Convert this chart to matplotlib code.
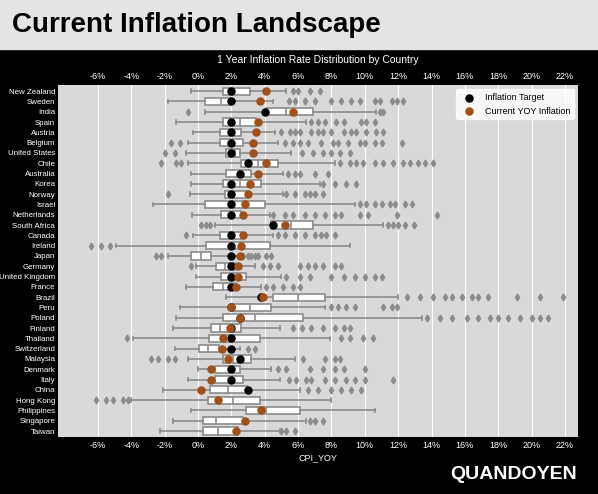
import matplotlib.pyplot as plt
import numpy as np

plt.rcParams['font.family'] = ['Liberation Sans', 'DejaVu Sans']

countries = ['New Zealand', 'Sweden', 'India', 'Spain', 'Austria', 'Belgium', 'United States',
             'Chile', 'Australia', 'Korea', 'Norway', 'Israel', 'Netherlands', 'South Africa',
             'Canada', 'Ireland', 'Japan', 'Germany', 'United Kingdom', 'France', 'Brazil', 'Peru',
             'Poland', 'Finland', 'Thailand', 'Switzerland', 'Malaysia', 'Denmark', 'Italy', 'China',
             'Hong Kong', 'Philippines', 'Singapore', 'Taiwan']

# whisker low, q1, median, q3, whisker high
box_stats = [
    (-0.45, 1.5, 2.0, 3.1, 5.3), (-1.8, 0.4, 1.4, 2.0, 4.5), (0.4, 4.1, 5.3, 6.9, 10.7),
    (-1.3, 1.5, 2.5, 3.5, 6.5), (-0.3, 1.3, 2.0, 2.6, 4.6), (-0.6, 1.3, 2.0, 2.7, 4.8),
    (-0.7, 1.7, 2.2, 2.5, 5.6), (-0.6, 2.6, 3.6, 4.8, 8.2), (-0.45, 1.7, 2.5, 3.2, 5.1),
    (-0.4, 1.5, 2.5, 3.8, 7.3), (-0.5, 1.6, 2.0, 3.0, 5.1), (-2.7, 0.4, 2.0, 4.0, 9.4),
    (-0.35, 1.4, 2.0, 2.6, 4.3), (1.0, 4.4, 5.6, 6.9, 11.1), (-0.3, 1.3, 2.0, 2.6, 4.5),
    (-4.9, 0.5, 2.0, 4.3, 9.1), (-1.8, -0.4, 0.15, 0.8, 2.5), (-0.1, 1.1, 1.6, 2.2, 3.4),
    (-0.15, 1.35, 1.9, 2.85, 5.0), (-0.7, 0.9, 1.5, 2.3, 3.75), (1.7, 4.5, 6.0, 7.6, 12.0),
    (-1.1, 2.0, 3.1, 4.4, 7.6), (-1.3, 1.5, 3.4, 6.3, 13.4), (-1.5, 0.75, 1.3, 2.6, 4.9),
    (-3.9, 0.65, 2.0, 3.7, 7.9), (-1.4, 0.05, 0.6, 1.25, 2.5), (-0.6, 1.5, 2.1, 3.2, 5.8),
    (0.0, 1.0, 2.0, 2.5, 4.4), (-0.6, 1.0, 2.0, 2.7, 4.9), (-2.1, 0.7, 1.8, 2.95, 6.1),
    (-4.0, 0.6, 2.1, 3.7, 8.0), (-0.4, 2.9, 4.1, 6.1, 10.6), (-1.5, 0.3, 1.1, 2.7, 6.5),
    (-2.3, 0.3, 1.2, 2.4, 4.9),
]

outliers = [
    [5.7, 6.0, 6.7, 7.3],
    [5.45, 5.8, 6.4, 7.0, 7.95, 8.6, 9.2, 9.7, 10.6, 10.9, 11.6, 11.9, 12.3],
    [-0.6, 10.9, 11.1],
    [6.8, 7.2, 7.6, 8.3, 8.75, 9.8, 10.1, 10.6],
    [5.0, 5.5, 5.8, 6.1, 6.8, 7.2, 7.5, 7.95, 8.75, 9.2, 9.5, 10.1, 10.7, 11.1],
    [-1.6, -1.1, 5.2, 5.7, 6.1, 6.6, 7.4, 8.1, 8.4, 9.0, 9.7, 10.0, 10.6, 11.0, 12.2],
    [-2.0, -1.4, 6.25, 6.9, 7.5, 7.95, 8.5, 9.1],
    [-2.2, -1.3, -1.0, 8.5, 9.1, 9.5, 9.9, 10.6, 11.1, 11.7, 12.3, 12.7, 13.2, 13.6, 14.1],
    [5.4, 5.8, 6.1, 7.0, 7.8],
    [7.5, 8.2, 8.9, 9.5],
    [-1.8, 5.3, 5.8, 6.4, 6.7, 7.0, 7.5],
    [9.7, 10.1, 10.6, 11.0, 11.5, 11.8, 12.4, 12.8],
    [4.5, 5.2, 5.7, 6.4, 7.0, 7.6, 8.2, 8.6, 9.7, 10.2, 11.9, 14.3],
    [0.2, 0.45, 0.7, 11.4, 11.7, 12.0, 12.4, 12.95],
    [-0.75, 4.8, 5.2, 5.8, 6.4, 7.0, 7.4, 7.7, 8.2],
    [-6.4, -5.8, -5.3],
    [-2.5, -2.2, 2.7, 3.0, 3.2, 3.4, 3.6, 4.1, 4.4],
    [-0.45, 3.9, 4.3, 4.8, 6.1, 6.6, 7.0, 7.5, 8.2, 8.6],
    [5.3, 6.1, 6.7, 7.95, 8.75, 9.4, 10.0, 10.6, 11.0],
    [4.1, 4.5, 5.1, 5.7, 6.1],
    [12.5, 13.3, 14.1, 14.8, 15.2, 15.8, 16.4, 16.8, 17.4, 19.1, 20.5, 21.9],
    [8.0, 8.4, 8.9, 9.4, 11.1, 11.6, 11.9],
    [13.75, 14.5, 15.2, 16.1, 16.8, 17.5, 18.0, 18.6, 19.3, 20.0, 20.5, 21.0],
    [5.7, 6.25, 6.8, 7.5, 8.2, 8.75, 9.1],
    [-4.25, 8.6, 9.1, 9.9, 10.5],
    [3.0, 3.4],
    [-2.8, -2.4, -1.8, -1.4, 6.3, 7.6, 8.2, 8.5],
    [4.8, 5.3, 6.7, 7.5, 8.2, 8.75, 10.0],
    [5.45, 5.9, 6.5, 6.8, 7.6, 8.2, 8.9, 9.4, 10.0, 11.7],
    [6.6, 7.2, 7.95, 8.6, 9.2, 9.8],
    [-6.1, -5.5, -5.1, -4.5, -4.2],
    [],
    [6.7, 7.0, 7.5],
    [5.0, 5.3, 5.8],
]

targets = [2, 2, 4, 2, 2, 2, 2, 3, 2.5, 2, 2, 2, 2, 4.5, 2, 2, 2, 2, 2, 2, 3.75, 2,
           2.5, 2, 2, 2, 2.5, 2, 2, 3, np.nan, np.nan, np.nan, np.nan]
current = [4.1, 3.7, 5.7, 3.6, 3.5, 3.3, 3.3, 4.1, 3.6, 3.1, 3.0, 2.8, 2.7, 5.2, 2.7, 2.6,
           2.5, 2.4, 2.4, 2.3, 3.9, 2.0, 2.5, 1.9, 1.5, 1.45, 1.8, 0.8, 0.8, 0.2, 1.2, 3.8, 2.8, 2.3]

fig = plt.figure(figsize=(5.98, 4.94), dpi=100, facecolor='black')
fig.patches.append(plt.Rectangle((0, 0.9), 1, 0.1, transform=fig.transFigure,
                                 color='#e4e4e4', zorder=0))
fig.text(0.02, 0.95, 'Current Inflation Landscape', fontsize=20, fontweight='bold',
         color='black', va='center')
fig.text(0.965, 0.04, 'QUANDOYEN', fontsize=14, fontweight='bold', color='white',
         ha='right', va='center')

ax = fig.add_axes([0.097, 0.115, 0.87, 0.713])
ax.set_facecolor('#d9d9d9')

n = len(countries)
pos = np.arange(n)[::-1]
stats = []
for name, (lo, q1, med, q3, hi), fl in zip(countries, box_stats, outliers):
    stats.append(dict(label=name, whislo=lo, q1=q1, med=med, q3=q3, whishi=hi, fliers=fl))

ax.bxp(stats, positions=pos, vert=False, widths=0.7, patch_artist=True,
       boxprops=dict(facecolor='white', edgecolor='#8c8c8c', linewidth=1.2),
       medianprops=dict(color='#8c8c8c', linewidth=1.2),
       whiskerprops=dict(color='#8c8c8c', linewidth=1.2),
       capprops=dict(color='#8c8c8c', linewidth=1.2),
       flierprops=dict(marker='d', markerfacecolor='#8c8c8c', markeredgecolor='#8c8c8c',
                       markersize=3.5))

ax.scatter(targets, pos, color='black', s=26, zorder=5, label='Inflation Target')
ax.scatter(current, pos, color='#a0501a', s=26, zorder=5, label='Current YOY Inflation')

ax.set_xlim(-8.4, 22.8)
ax.set_ylim(-0.6, n - 0.4)
ax.set_yticks(pos)
ax.set_yticklabels(countries, fontsize=5.7, color='white')
ticks = np.arange(-6, 23, 2)
ax.set_xticks(ticks)
ax.set_xticklabels([f'{t}%' for t in ticks], fontsize=6.5, color='white')
ax.tick_params(axis='x', top=True, labeltop=True, length=0, colors='white', pad=3)
ax.tick_params(axis='y', length=0, pad=2)
ax.grid(axis='x', color='white', linewidth=0.8)
ax.set_axisbelow(True)
ax.set_xlabel('CPI_YOY', fontsize=6.5, color='white', labelpad=2)
ax.set_title('1 Year Inflation Rate Distribution by Country', fontsize=7.5, color='white', pad=16)
for s in ax.spines.values():
    s.set_visible(False)
ax.legend(loc='upper right', fontsize=6.5, frameon=True, facecolor='white', edgecolor='white')

fig.savefig('out.png', dpi=100, facecolor=fig.get_facecolor())
